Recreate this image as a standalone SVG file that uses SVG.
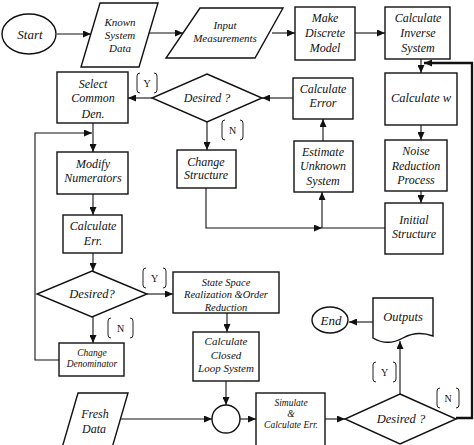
<svg xmlns="http://www.w3.org/2000/svg" width="474" height="445" viewBox="0 0 474 445">
<style>
.s{fill:#fff;stroke:#111;stroke-width:1.4}
.t{font-family:'Liberation Serif','Times New Roman','DejaVu Serif',serif;font-style:italic;font-size:12px;fill:#111;text-anchor:middle;dominant-baseline:central}
.yn{font-family:'Liberation Serif','Times New Roman','DejaVu Serif',serif;font-size:10px;fill:#111;text-anchor:middle;dominant-baseline:central}
.c{fill:none;stroke:#111;stroke-width:1.1}
.br{fill:none;stroke:#222;stroke-width:1}
</style>
<defs>
<marker id="a" markerWidth="8" markerHeight="7" refX="8" refY="3.5" orient="auto" markerUnits="userSpaceOnUse">
<path d="M0,0 L8,3.5 L0,7 z" fill="#111"/>
</marker>
</defs>
<rect width="474" height="445" fill="#fff"/>
<g id="connectors">
<path class="c" d="M57,34 H91" marker-end="url(#a)"/>
<path class="c" d="M148,33 H183" marker-end="url(#a)"/>
<path class="c" d="M272,33 H295" marker-end="url(#a)"/>
<path class="c" d="M355,33 H385" marker-end="url(#a)"/>
<path class="c" d="M421,59 V73" marker-end="url(#a)"/>
<path class="c" d="M421,125 V140" marker-end="url(#a)"/>
<path class="c" d="M421,191 V203" marker-end="url(#a)"/>
<path class="c" style="stroke-width:2.3" d="M456,418 H472 V63 H424" marker-end="url(#a)"/>
<path class="c" d="M385,228 H322"/>
<path class="c" d="M206,188 V228 H322" marker-end="url(#a)"/>
<path class="c" d="M322,228 V192" marker-end="url(#a)"/>
<path class="c" d="M323,141 V119" marker-end="url(#a)"/>
<path class="c" d="M293,98 H262" marker-end="url(#a)"/>
<path class="c" d="M152,98 H128" marker-end="url(#a)"/>
<path class="c" d="M207,122 V150" marker-end="url(#a)"/>
<path class="c" d="M93,123 V152" marker-end="url(#a)"/>
<path class="c" d="M59,360 H35 V133 H92" marker-end="url(#a)"/>
<path class="c" d="M93,194 V215" marker-end="url(#a)"/>
<path class="c" d="M93,253 V271" marker-end="url(#a)"/>
<path class="c" d="M147,294 H173" marker-end="url(#a)"/>
<path class="c" d="M93,317 V343" marker-end="url(#a)"/>
<path class="c" d="M227,313 V332" marker-end="url(#a)"/>
<path class="c" d="M226,381 V405" marker-end="url(#a)"/>
<path class="c" d="M120,419 H212" marker-end="url(#a)"/>
<path class="c" d="M240,419 H256" marker-end="url(#a)"/>
<path class="c" d="M325,419 H345" marker-end="url(#a)"/>
<path class="c" d="M400,394 V341" marker-end="url(#a)"/>
<path class="c" d="M373,322 H349" marker-end="url(#a)"/>
</g>
<g id="start"><ellipse class="s" cx="29" cy="34" rx="27" ry="20"/><text class="t" x="30" y="34" style="font-size:13px">Start</text></g>
<g id="known"><polygon class="s" points="100,3 158,3 139,67 81,67"/><text class="t" x="120" y="22" style="font-size:11px">Known</text><text class="t" x="120" y="35" style="font-size:11px">System</text><text class="t" x="120" y="48" style="font-size:11px">Data</text></g>
<g id="input"><polygon class="s" points="200,8 283,8 255,58 166,58"/><text class="t" x="225" y="25" style="font-size:11px">Input</text><text class="t" x="225" y="38" style="font-size:11px">Measurements</text></g>
<g id="discrete"><rect class="s" x="295" y="7" width="60" height="53"/><text class="t" x="325" y="18">Make</text><text class="t" x="325" y="33">Discrete</text><text class="t" x="325" y="48">Model</text></g>
<g id="inverse"><rect class="s" x="385" y="7" width="65" height="52"/><text class="t" x="418" y="18">Calculate</text><text class="t" x="418" y="33">Inverse</text><text class="t" x="418" y="48">System</text></g>
<g id="calcw"><rect class="s" x="385" y="73" width="72" height="52"/><text class="t" x="421" y="98" style="font-size:12.5px">Calculate w</text></g>
<g id="noise"><rect class="s" x="385" y="140" width="62" height="51"/><text class="t" x="416" y="151">Noise</text><text class="t" x="416" y="166">Reduction</text><text class="t" x="416" y="180">Process</text></g>
<g id="initial"><rect class="s" x="385" y="203" width="58" height="51"/><text class="t" x="414" y="220">Initial</text><text class="t" x="414" y="234">Structure</text></g>
<g id="estimate"><rect class="s" x="294" y="141" width="59" height="51"/><text class="t" x="323" y="152">Estimate</text><text class="t" x="323" y="166">Unknown</text><text class="t" x="323" y="181">System</text></g>
<g id="calcerror"><rect class="s" x="293" y="78" width="60" height="41"/><text class="t" x="323" y="89">Calculate</text><text class="t" x="323" y="103">Error</text></g>
<g id="desired1"><polygon class="s" points="207,74 262,98 207,122 152,98"/><text class="t" x="207" y="98">Desired ?</text></g>
<g id="y1"><path class="br" d="M140,73 Q137,73 137,76 V90 Q137,93 140,93 M154,73 Q157,73 157,76 V90 Q157,93 154,93"/><text class="yn" x="147" y="83">Y</text></g>
<g id="n1"><path class="br" d="M225,120 Q222,120 222,123 V137 Q222,140 225,140 M240,120 Q243,120 243,123 V137 Q243,140 240,140"/><text class="yn" x="232.5" y="130">N</text></g>
<g id="select"><rect class="s" x="57" y="72" width="71" height="51"/><text class="t" x="93" y="84">Select</text><text class="t" x="93" y="98">Common</text><text class="t" x="93" y="114">Den.</text></g>
<g id="change"><rect class="s" x="177" y="150" width="59" height="38"/><text class="t" x="206" y="162">Change</text><text class="t" x="206" y="175">Structure</text></g>
<g id="modify"><rect class="s" x="57" y="152" width="71" height="42"/><text class="t" x="93" y="164">Modify</text><text class="t" x="93" y="178">Numerators</text></g>
<g id="calcerr"><rect class="s" x="63" y="215" width="59" height="38"/><text class="t" x="93" y="226">Calculate</text><text class="t" x="93" y="241">Err.</text></g>
<g id="desired2"><polygon class="s" points="92,271 147,294 92,317 37,294"/><text class="t" x="92" y="294" style="font-size:12.5px">Desired?</text></g>
<g id="y2"><path class="br" d="M146,268 Q143,268 143,271 V285 Q143,288 146,288 M163,268 Q166,268 166,271 V285 Q166,288 163,288"/><text class="yn" x="154.5" y="278">Y</text></g>
<g id="n2"><path class="br" d="M111,318 Q108,318 108,321 V335 Q108,338 111,338 M130,318 Q133,318 133,321 V335 Q133,338 130,338"/><text class="yn" x="120.5" y="328">N</text></g>
<g id="changeden"><rect class="s" x="59" y="343" width="65" height="33"/><text class="t" x="92" y="353" style="font-size:9.5px">Change</text><text class="t" x="92" y="364" style="font-size:9.5px">Denominator</text></g>
<g id="statespace"><rect class="s" x="173" y="272" width="106" height="41"/><text class="t" x="226" y="282" style="font-size:10.5px">State Space</text><text class="t" x="226" y="294" style="font-size:10.5px">Realization &amp;Order</text><text class="t" x="226" y="307" style="font-size:10.5px">Reduction</text></g>
<g id="closed"><rect class="s" x="193" y="332" width="66" height="49"/><text class="t" x="226" y="341" style="font-size:11px">Calculate</text><text class="t" x="226" y="355" style="font-size:11px">Closed</text><text class="t" x="226" y="368" style="font-size:11px">Loop System</text></g>
<g id="sum"><circle class="s" cx="226" cy="419" r="14"/></g>
<g id="fresh"><polygon class="s" points="78,393 128,393 112,448 62,448"/><text class="t" x="95" y="414">Fresh</text><text class="t" x="94" y="429">Data</text></g>
<g id="simulate"><rect class="s" x="256" y="393" width="69" height="56"/><text class="t" x="291" y="403" style="font-size:9.5px">Simulate</text><text class="t" x="291" y="414" style="font-size:9.5px">&amp;</text><text class="t" x="291" y="425" style="font-size:9.5px">Calculate Err.</text></g>
<g id="desired3"><polygon class="s" points="400,394 456,419 400,444 345,419"/><text class="t" x="401" y="419" style="font-size:12.5px">Desired ?</text></g>
<g id="y3"><path class="br" d="M376,362 Q373,362 373,365 V379 Q373,382 376,382 M393,362 Q396,362 396,365 V379 Q396,382 393,382"/><text class="yn" x="384.5" y="372">Y</text></g>
<g id="n3"><path class="br" d="M440,388 Q437,388 437,391 V405 Q437,408 440,408 M456,388 Q459,388 459,391 V405 Q459,408 456,408"/><text class="yn" x="448" y="398">N</text></g>
<g id="outputs"><path class="s" d="M373,298 H433 V336 C422,332 412,333 403,338 C394,343 383,344 373,338 Z"/><text class="t" x="403" y="317" style="font-size:12.5px">Outputs</text></g>
<g id="end"><ellipse class="s" cx="330" cy="320" rx="18" ry="13"/><text class="t" x="331" y="320" style="font-size:13px">End</text></g>
</svg>
